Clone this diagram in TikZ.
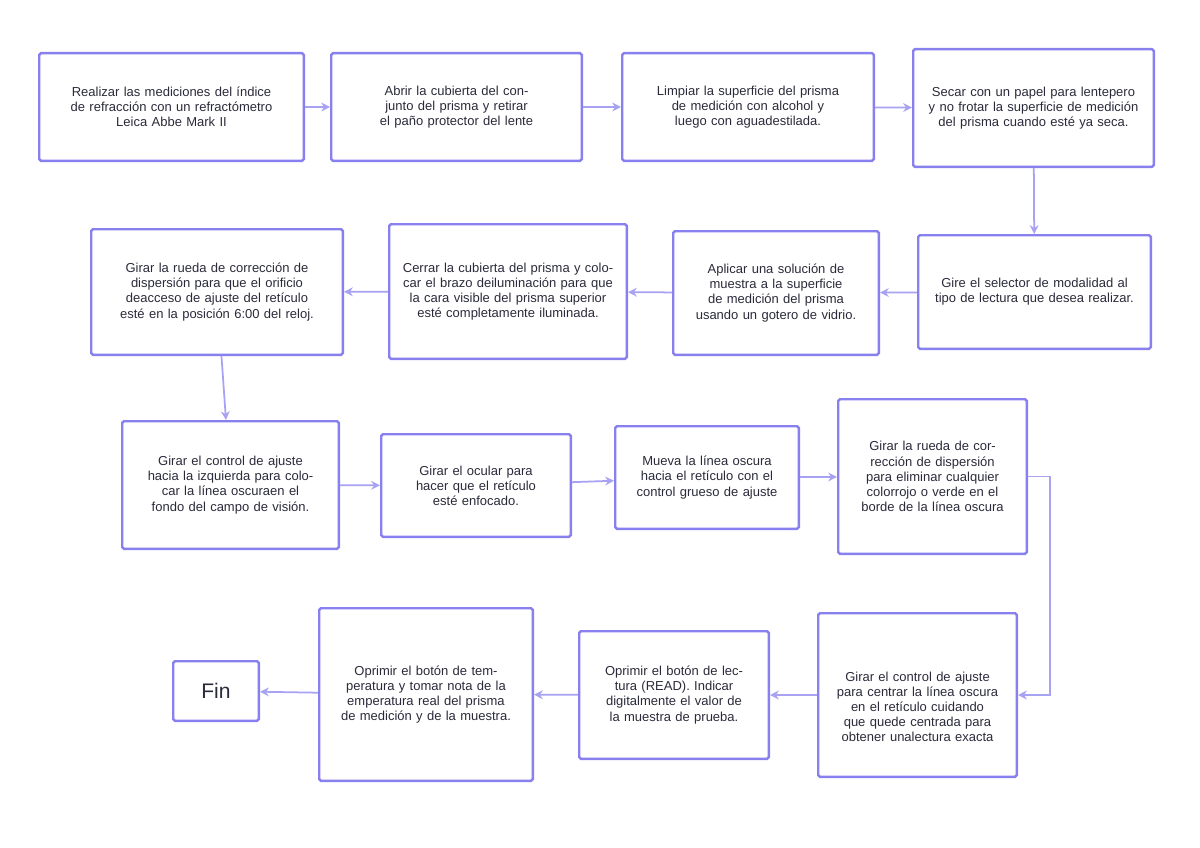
\documentclass[tikz,border=0pt]{standalone}
\usepackage{fontspec}
\setmainfont{Liberation Sans}
\usetikzlibrary{arrows.meta}
\definecolor{bd}{HTML}{8880EE}
\definecolor{ar}{HTML}{A7A2F2}
\definecolor{tx}{HTML}{2A2A3A}
\begin{document}
\begin{tikzpicture}[x=0.02cm,y=-0.02cm,
 bx/.style={draw=bd,line width=1.4pt,rounded corners=1pt,text=tx,align=center,font=\fontsize{7.4}{8.6}\selectfont,inner sep=2pt},
 con/.style={draw=ar,line width=1pt,-{Stealth[length=5pt,width=5pt]}}]
\useasboundingbox (0,0) rectangle (1200,848);
\newcommand\bxn[6]{\node[bx,minimum width=#4*0.02cm-1.4pt,minimum height=#5*0.02cm-1.4pt,text width=#4*0.02cm-14pt] (#1) at (#2,#3) {#6};}
\bxn{b1}{171.5}{107}{267}{110}{Realizar las mediciones del índice\\ de refracción con un refractómetro\\ Leica Abbe Mark II\\[6pt]}
\bxn{b2}{456.5}{107}{253}{110}{Abrir la cubierta del conjunto del prisma y retirar el paño protector del lente\\[6pt]}
\bxn{b3}{748}{107}{254}{110}{Limpiar la superficie del prisma de medición con alcohol y luego con aguadestilada.}
\bxn{b4}{1033.5}{108}{243}{120}{Secar con un papel para lentepero y no frotar la superficie de medición\\ del prisma cuando esté ya seca.}
\bxn{b5}{1034.5}{292}{235}{116}{Gire el selector de modalidad al tipo de lectura que desea realizar.}
\bxn{b6}{776}{293}{208}{126}{Aplicar una solución de muestra a la superficie de medición del prisma usando un gotero de vidrio.}
\bxn{b7}{508}{291.5}{240}{137}{Cerrar la cubierta del prisma y colocar el brazo deiluminación para que la cara visible del prisma superior esté completamente iluminada.}
\bxn{b8}{217}{292}{254}{128}{Girar la rueda de corrección de dispersión para que el orificio deacceso de ajuste del retículo esté en la posición 6:00 del reloj.\\[10pt]}
\bxn{b9}{230.5}{485}{219}{130}{Girar el control de ajuste hacia la izquierda para colocar la línea oscuraen el fondo del campo de visión.}
\bxn{b10}{476}{485.5}{192}{105}{Girar el ocular para hacer que el retículo esté enfocado.}
\bxn{b11}{707}{477.5}{186}{105}{Mueva la línea oscura hacia el retículo con el control grueso de ajuste}
\bxn{b12}{932.5}{476.5}{191}{157}{Girar la rueda de corrección de dispersión para eliminar cualquier colorrojo o verde en el borde de la línea oscura\\[8pt]}
\bxn{b13}{917.5}{695}{201}{166}{\\[10pt]Girar el control de ajuste para centrar la línea oscura en el retículo cuidando que quede centrada para obtener unalectura exacta}
\bxn{b14}{674}{695}{192}{130}{Oprimir el botón de lectura (READ). Indicar digitalmente el valor de la muestra de prueba.\\[4pt]}
\bxn{b15}{426}{694.5}{216}{175}{Oprimir el botón de temperatura y tomar nota  de la emperatura real del prisma de medición y de la muestra.\\[10pt]}
\node[bx,minimum width=88*0.02cm-1.4pt,minimum height=62*0.02cm-1.4pt,font=\fontsize{12}{14}\selectfont] (b16) at (216,691) {Fin};
\draw[con] (b1) -- (b2);
\draw[con] (b2) -- (b3);
\draw[con] (b3) -- (b4);
\draw[con] (b4) -- (b5);
\draw[con] (b5) -- (b6);
\draw[con] (b6) -- (b7);
\draw[con] (b7) -- (b8);
\draw[con] (b8) -- (b9);
\draw[con] (b9) -- (b10);
\draw[con] (b10) -- (b11);
\draw[con] (b11) -- (b12);
\draw[con] (b12.east) -- ++(22,0) |- (b13.east);
\draw[con] (b13) -- (b14);
\draw[con] (b14) -- (b15);
\draw[con] (b15) -- (b16);
\end{tikzpicture}
\end{document}
